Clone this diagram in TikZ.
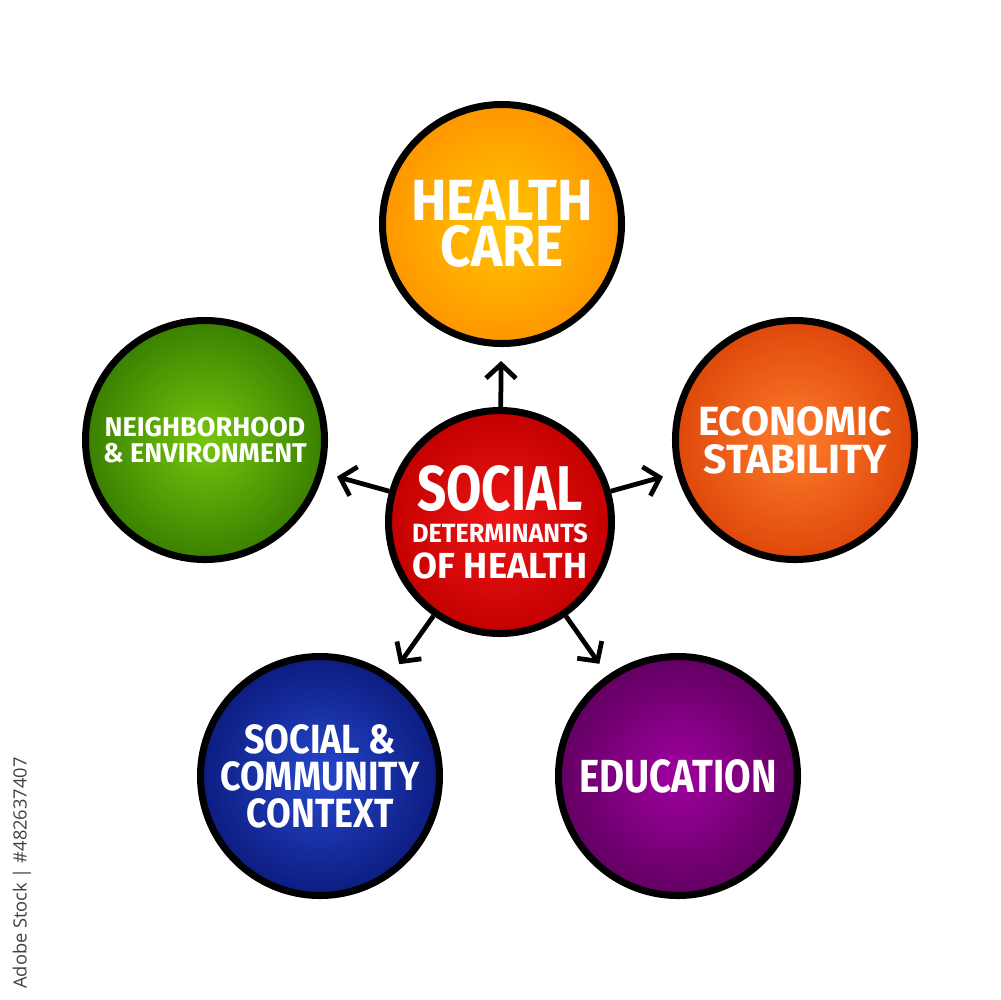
\documentclass[tikz,border=0pt]{standalone}
\usepackage{fontspec}
\setmainfont{Open Sans}
\newfontfamily\hand{Fira Sans Bold}
\newcommand\breite[1]{\addfontfeatures{FakeStretch=#1}}
\usetikzlibrary{arrows.meta}

\definecolor{careIn}{RGB}{255,198,0}
\definecolor{careOut}{RGB}{255,150,0}
\definecolor{econIn}{RGB}{255,125,45}
\definecolor{econOut}{RGB}{222,72,10}
\definecolor{nbhIn}{RGB}{118,198,14}
\definecolor{nbhOut}{RGB}{58,128,0}
\definecolor{sdohIn}{RGB}{238,22,22}
\definecolor{sdohOut}{RGB}{196,0,0}
\definecolor{commIn}{RGB}{38,72,205}
\definecolor{commOut}{RGB}{12,28,128}
\definecolor{eduIn}{RGB}{160,0,160}
\definecolor{eduOut}{RGB}{98,0,98}

\tikzset{
  topic/.style={circle, draw=black, line width=2pt, minimum size=23.9mm, inner sep=0pt,
    text=white, align=center},
  pfeil/.style={-{Straight Barb[length=1.4mm, width=3mm]}, line width=1.35pt,
    shorten >=1.4mm},
}

\begin{document}
\begin{tikzpicture}[x=0.1mm, y=-0.1mm]
    \useasboundingbox (0,0) rectangle (1000,1000);

    % Mitte
    \node[topic, minimum size=22.3mm, inner color=sdohIn, outer color=sdohOut,
        font=\hand\fontsize{10}{8.5}\selectfont] (sdoh) at (500,522)
        {\breite{0.81}\fontsize{18}{15}\selectfont SOCIAL\\[0.8pt]
         \breite{0.96}\fontsize{7.5}{8}\selectfont DETERMINANTS\\[1.5pt]
         \fontsize{10.3}{11}\selectfont OF HEALTH};

    % Themen
    \node[topic, inner color=careIn, outer color=careOut,
        font=\hand\breite{0.92}\fontsize{16.5}{13.3}\selectfont] (care) at (502,224) {HEALTH\\CARE};
    \node[topic, inner color=econIn, outer color=econOut,
        font=\hand\fontsize{11.6}{10.8}\selectfont] (econ) at (795,440) {ECONOMIC\\STABILITY};
    \node[topic, inner color=nbhIn, outer color=nbhOut,
        font=\hand\fontsize{7.7}{7.4}\selectfont] (nbh) at (205,440) {NEIGHBORHOOD\\\& ENVIRONMENT};
    \node[topic, inner color=commIn, outer color=commOut,
        font=\hand\breite{0.88}\fontsize{11.6}{10.5}\selectfont] (comm) at (320,776) {SOCIAL \&\\COMMUNITY\\CONTEXT};
    \node[topic, inner color=eduIn, outer color=eduOut,
        font=\hand\breite{0.83}\fontsize{13.2}{11}\selectfont] (edu) at (678,776) {EDUCATION};

    % Pfeile
    \foreach \ziel in {care, econ, nbh, comm, edu}
        \draw[pfeil] (sdoh) -- (\ziel);

    % Wasserzeichen
    \node[rotate=90, text=black!75, font=\fontsize{5.2}{5}\selectfont] (marke) at (22,873)
        {Adobe Stock | \#482637407};
\end{tikzpicture}
\end{document}
